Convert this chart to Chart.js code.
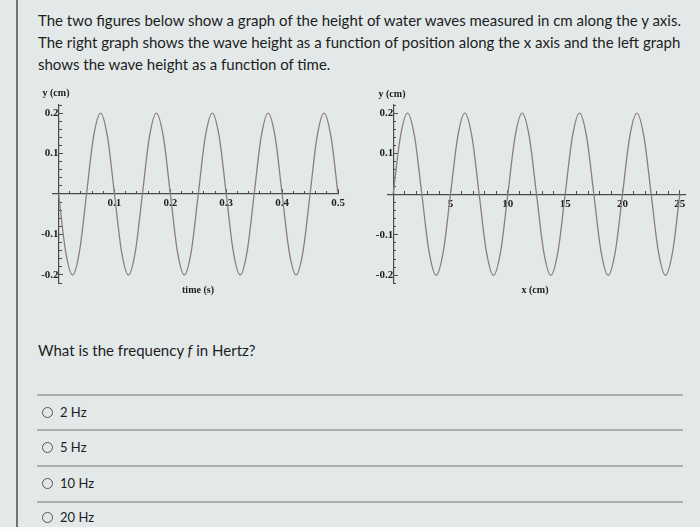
<!DOCTYPE html>
<html>
<head>
<meta charset="utf-8">
<script src="https://cdn.jsdelivr.net/npm/chart.js@4/dist/chart.umd.min.js"></script>
<style>
  html, body { margin: 0; padding: 0; }
  body { width: 700px; height: 531px; position: relative; overflow: hidden;
         background: #e3e9e9; font-family: Lato, sans-serif; color: #1d1d1d; }
  .edge { position: absolute; left: 16px; top: 0; width: 1.5px; height: 527px; background: #6f7474; }
  .foot { position: absolute; left: 0; top: 527px; width: 700px; height: 4px; background: #fafafa; }
  .intro { position: absolute; left: 38px; top: 9px; width: 660px; font-size: 15px; line-height: 22px; }
  .question { position: absolute; left: 38px; top: 339px; font-size: 15px; line-height: 22px; }
  .rule { position: absolute; left: 37px; width: 646px; height: 1.5px; background: #a9afaf; }
  .opt { position: absolute; left: 42px; font-size: 13px; line-height: 16px; }
  .opt span.dot { display: inline-block; width: 9px; height: 9px; border: 1.3px solid #555;
                  border-radius: 50%; vertical-align: -1px; margin-right: 7px; }
  .box { position: absolute; top: 85px; width: 340px; height: 215px; }
  .axt { position: absolute; font: bold 10px "Liberation Serif", serif; color: #222; transform: translate(-50%, -50%); white-space: nowrap; }
</style>
</head>
<body>
<div class="edge"></div>
<div class="foot"></div>

<div class="intro">The two figures below show a graph of the height of water waves measured in cm along the y axis. The right graph shows the wave height as a function of position along the x axis and the left graph shows the wave height as a function of time.</div>

<div class="box" style="left:20px"><canvas id="timeChart"></canvas></div>
<div class="box" style="left:360px"><canvas id="posChart"></canvas></div>

<div class="axt" style="left:56px; top:92px">y (cm)</div>
<div class="axt" style="left:198px; top:289px">time (s)</div>
<div class="axt" style="left:392px; top:93px">y (cm)</div>
<div class="axt" style="left:535px; top:289px">x (cm)</div>

<div class="question">What is the frequency <i>f</i> in Hertz?</div>

<div class="rule" style="top:394px"></div>
<div class="opt" style="top:404px"><span class="dot"></span>2 Hz</div>
<div class="rule" style="top:429px"></div>
<div class="opt" style="top:439px"><span class="dot"></span>5 Hz</div>
<div class="rule" style="top:465px"></div>
<div class="opt" style="top:475px"><span class="dot"></span>10 Hz</div>
<div class="rule" style="top:501px"></div>
<div class="opt" style="top:509px"><span class="dot"></span>20 Hz</div>

<script>
// left graph: height vs time
const timeS = [0, 0.0125, 0.025, 0.0375, 0.05, 0.0625, 0.075, 0.0875,
  0.1, 0.1125, 0.125, 0.1375, 0.15, 0.1625, 0.175, 0.1875,
  0.2, 0.2125, 0.225, 0.2375, 0.25, 0.2625, 0.275, 0.2875,
  0.3, 0.3125, 0.325, 0.3375, 0.35, 0.3625, 0.375, 0.3875,
  0.4, 0.4125, 0.425, 0.4375, 0.45, 0.4625, 0.475, 0.4875, 0.5];
const heightT = [0, -0.141, -0.2, -0.141, 0, 0.141, 0.2, 0.141,
  0, -0.141, -0.2, -0.141, 0, 0.141, 0.2, 0.141,
  0, -0.141, -0.2, -0.141, 0, 0.141, 0.2, 0.141,
  0, -0.141, -0.2, -0.141, 0, 0.141, 0.2, 0.141,
  0, -0.141, -0.2, -0.141, 0, 0.141, 0.2, 0.141, 0];

// right graph: height vs position
const posCm = [0, 0.625, 1.25, 1.875, 2.5, 3.125, 3.75, 4.375,
  5, 5.625, 6.25, 6.875, 7.5, 8.125, 8.75, 9.375,
  10, 10.625, 11.25, 11.875, 12.5, 13.125, 13.75, 14.375,
  15, 15.625, 16.25, 16.875, 17.5, 18.125, 18.75, 19.375,
  20, 20.625, 21.25, 21.875, 22.5, 23.125, 23.75, 24.375, 25];
const heightX = [0, 0.141, 0.2, 0.141, 0, -0.141, -0.2, -0.141,
  0, 0.141, 0.2, 0.141, 0, -0.141, -0.2, -0.141,
  0, 0.141, 0.2, 0.141, 0, -0.141, -0.2, -0.141,
  0, 0.141, 0.2, 0.141, 0, -0.141, -0.2, -0.141,
  0, 0.141, 0.2, 0.141, 0, -0.141, -0.2, -0.141, 0];

// ticks: labelled (major) and small (minor)
const timeLabels = [0.1, 0.2, 0.3, 0.4, 0.5];
const timeMinor = [0.02, 0.04, 0.06, 0.08, 0.12, 0.14, 0.16, 0.18, 0.22, 0.24, 0.26, 0.28,
  0.32, 0.34, 0.36, 0.38, 0.42, 0.44, 0.46, 0.48];
const posLabels = [5, 10, 15, 20, 25];
const posMinor = [1, 2, 3, 4, 6, 7, 8, 9, 11, 12, 13, 14, 16, 17, 18, 19, 21, 22, 23, 24];
const yLabels = [-0.2, -0.1, 0.1, 0.2];
const yMinor = [-0.22, -0.18, -0.16, -0.14, -0.12, -0.08, -0.06, -0.04, -0.02,
  0.02, 0.04, 0.06, 0.08, 0.12, 0.14, 0.16, 0.18, 0.22];

const axisColor = "#4b4b4b";
const waveColor = "#8c7d7f";
const tickFont = { family: "Liberation Serif", size: 11, weight: "bold" };

// one axis: labelled ticks drawn inward, labels outside
function axis(dir, pos, min, max, values, len, pad, labels, border) {
  return {
    type: "linear",
    axis: dir,
    position: pos,
    min, max,
    afterBuildTicks: s => { s.ticks = values.map(v => ({ value: v })); },
    border: { display: border, color: axisColor, width: 1.2 },
    grid: { drawOnChartArea: false, drawTicks: true, tickLength: len, tickColor: axisColor, tickWidth: 1 },
    ticks: {
      display: labels, autoSkip: false, maxRotation: 0, padding: pad,
      color: "#222", font: tickFont,
      callback: v => String(v)
    }
  };
}

function makeChart(id, xs, ys, xmin, xmax, xLabels, xMinor, pad) {
  return new Chart(document.getElementById(id), {
    type: "line",
    data: {
      datasets: [{
        data: xs.map((x, i) => ({ x, y: ys[i] })),
        borderColor: waveColor,
        borderWidth: 1.3,
        pointRadius: 0,
        cubicInterpolationMode: "monotone",
        fill: false
      }]
    },
    options: {
      responsive: true,
      maintainAspectRatio: false,
      animation: false,
      layout: { padding: pad },
      plugins: { legend: { display: false }, tooltip: { enabled: false } },
      scales: {
        x: axis("x", { y: 0 }, xmin, xmax, xLabels, -5, 8, true, true),
        xm: axis("x", { y: 0 }, xmin, xmax, xMinor, -3, 0, false, false),
        y: axis("y", { x: 0 }, -0.22, 0.22, yLabels, -5, 10, true, true),
        ym: axis("y", { x: 0 }, -0.22, 0.22, yMinor, -3, 0, false, false)
      }
    }
  });
}

makeChart("timeChart", timeS, heightT, -0.01, 0.5, timeLabels, timeMinor,
  { left: 33, top: 20, right: 22, bottom: 17 });
makeChart("posChart", posCm, heightX, -0.45, 25.45, posLabels, posMinor,
  { left: 28, top: 20, right: 15, bottom: 13 });
</script>
</body>
</html>
